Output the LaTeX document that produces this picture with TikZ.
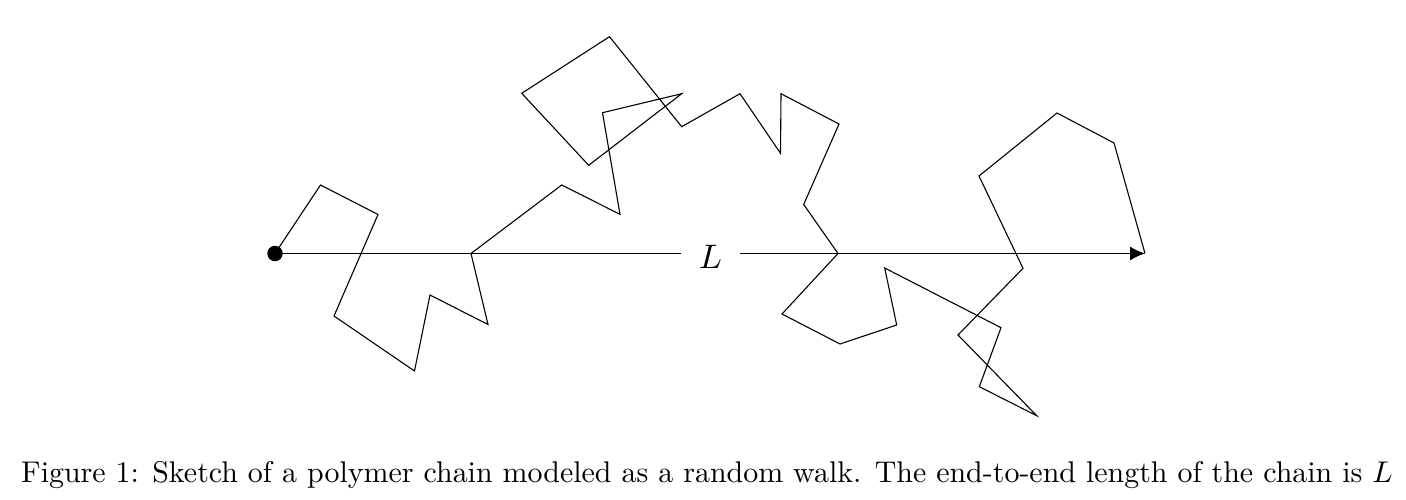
\documentclass[tikz,border=0pt]{standalone}
\usepackage{tikz}
\usetikzlibrary{arrows.meta,positioning}
\tikzset{
  walk/.style = {draw, line width=1.1pt, line join=miter},
  endline/.style = {draw, line width=1.1pt},
  enddot/.style = {circle, fill=black, inner sep=0pt, minimum size=15.5pt},
  lengthlabel/.style = {inner sep=0pt},
  captiontext/.style = {inner sep=0pt, anchor=base}
}

\begin{document}
\begin{tikzpicture}[x=1pt,y=-1pt]
\useasboundingbox (0,0) rectangle (1406,500);
\node[enddot] (start) at (275,253.5) {};
\coordinate (finish) at (1145,253.5);
\node[lengthlabel] (len) at (710.5,256.5) {\scalebox{3.4}{$L$}};
\coordinate (gapl) at (681,253.5);
\coordinate (gapr) at (740,253.5);
\draw[endline] (start.center) -- (gapl);
\draw[endline,-{Latex[length=15pt,width=14pt]}] (gapr) -- (finish);
% the chain
\draw[walk] (start.center) -- (320.5,185) -- (378,214.5) -- (334,316) -- (414.5,371) -- (430,295)
  -- (488,324.5) -- (471,253.5) -- (561.7,185) -- (620,214.3) -- (602.5,112.7) -- (681.7,93.7)
  -- (588.7,165.3) -- (521.7,93.3) -- (609.5,36.7) -- (681.7,126.7) -- (740,93.7) -- (780.5,153.3)
  -- (781,93.7) -- (839,124) -- (803.7,204.5) -- (838,253.5) -- (782,314) -- (840,344)
  -- (896.7,325) -- (884.7,268) -- (1001,327.7) -- (979.3,386.7) -- (1036.7,415.7) -- (958,335)
  -- (1023,268.3) -- (979,176) -- (1057,113) -- (1114,143) -- (finish);
\node[captiontext] (caption) at (707,482) {\scalebox{2.995}{Figure 1: Sketch of a polymer chain modeled as a random walk. The end-to-end length of the chain is $L$}};
\end{tikzpicture}
\end{document}
